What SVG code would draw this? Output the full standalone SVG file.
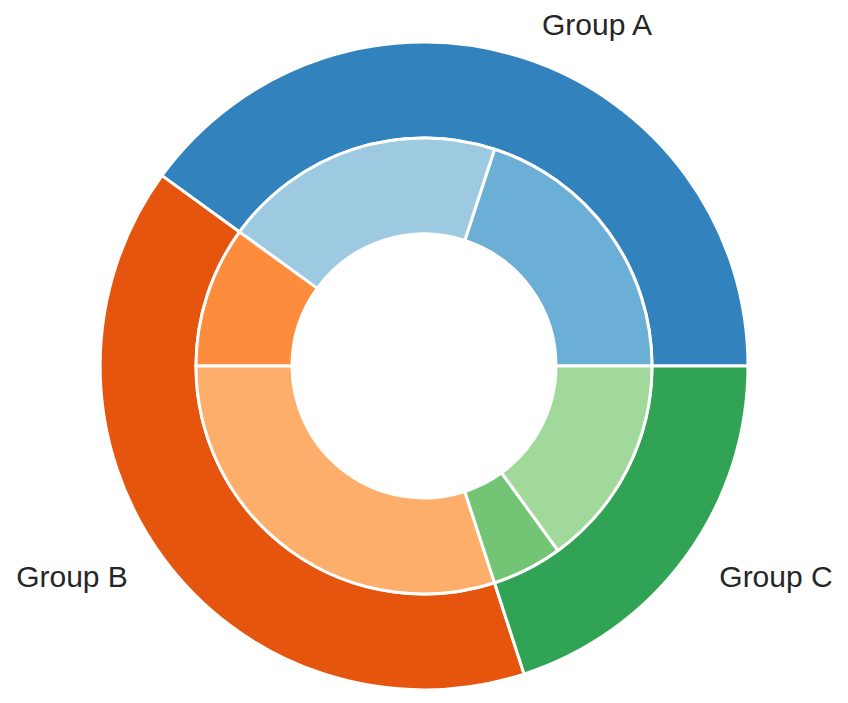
<svg xmlns="http://www.w3.org/2000/svg" width="848" height="703" viewBox="0 0 848 703">
<style>
.w{stroke:#fff;stroke-width:3;stroke-linejoin:round}
.t{font-family:"Liberation Sans",Arial,sans-serif;font-size:30px;fill:#262626}
</style>
<rect width="848" height="703" fill="#fff"/>
<g id="outer">
<path class="w" fill="#3182bd" d="M748,366 A324,324 0 0 0 161.9,175.6 L239.5,232 A228,228 0 0 1 652,366 Z"/>
<path class="w" fill="#e6550d" d="M161.9,175.6 A324,324 0 0 0 524.1,674.1 L494.5,582.8 A228,228 0 0 1 239.5,232 Z"/>
<path class="w" fill="#31a354" d="M524.1,674.1 A324,324 0 0 0 748,366 L652,366 A228,228 0 0 1 494.5,582.8 Z"/>
</g>
<g id="inner">
<path class="w" fill="#6baed6" d="M652,366 A228,228 0 0 0 494.5,149.2 L464.8,240.5 A132,132 0 0 1 556,366 Z"/>
<path class="w" fill="#9ecae1" d="M494.5,149.2 A228,228 0 0 0 239.5,232 L317.2,288.4 A132,132 0 0 1 464.8,240.5 Z"/>
<path class="w" fill="#fd8d3c" d="M239.5,232 A228,228 0 0 0 196,366 L292,366 A132,132 0 0 1 317.2,288.4 Z"/>
<path class="w" fill="#fdae6b" d="M196,366 A228,228 0 0 0 494.5,582.8 L464.8,491.5 A132,132 0 0 1 292,366 Z"/>
<path class="w" fill="#74c476" d="M494.5,582.8 A228,228 0 0 0 558,550.5 L501.6,472.8 A132,132 0 0 1 464.8,491.5 Z"/>
<path class="w" fill="#a1d99b" d="M558,550.5 A228,228 0 0 0 652,366 L556,366 A132,132 0 0 1 501.6,472.8 Z"/>
</g>
<g id="labels">
<text class="t" x="597" y="35" text-anchor="middle">Group A</text>
<text class="t" x="72" y="587" text-anchor="middle">Group B</text>
<text class="t" x="776" y="587" text-anchor="middle">Group C</text>
</g>
</svg>
